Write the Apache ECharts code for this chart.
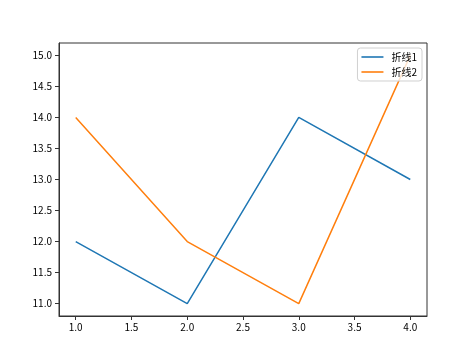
<!DOCTYPE html>
<html>
<head>
<meta charset="utf-8">
<script src="https://cdn.jsdelivr.net/npm/echarts@6/dist/echarts.min.js"></script>
<style>
	html, body { margin: 0; padding: 0; background: #fff; }
	#chart { width: 474px; height: 355px; }
</style>
</head>
<body>
<div id="chart"></div>
<script>
var xValues = [1, 2, 3, 4];
var line1 = [12, 11, 14, 13];
var line2 = [14, 12, 11, 15];
var seriesNames = ['折线1', '折线2'];
var xTicks = [1.0, 1.5, 2.0, 2.5, 3.0, 3.5, 4.0];
var yTicks = [11.0, 11.5, 12.0, 12.5, 13.0, 13.5, 14.0, 14.5, 15.0];

var myColor = ['#1f77b4', '#ff7f0e'];
var font = '"Noto Sans CJK SC", "DejaVu Sans", sans-serif';

function pairs(xs, ys) {
	return xs.map(function(x, i) { return [x, ys[i]]; });
}

var chart = echarts.init(document.getElementById('chart'));
chart.setOption({
	animation: false,
	color: myColor,
	grid: {
		left: 59,
		right: 47,
		top: 43,
		bottom: 39,
		show: true,
		borderColor: '#333',
		borderWidth: 1,
		backgroundColor: '#fff'
	},
	legend: {
		data: seriesNames,
		orient: 'vertical',
		right: 52,
		top: 48,
		icon: 'rect',
		itemWidth: 22,
		itemHeight: 1.6,
		itemGap: 5,
		padding: [4, 5, 4, 4],
		backgroundColor: 'rgba(255,255,255,0.8)',
		borderColor: '#d0d0d0',
		borderWidth: 1,
		borderRadius: 3,
		textStyle: {
			fontFamily: font,
			fontSize: 10,
			color: '#000',
			padding: [0, 0, 0, 3]
		}
	},
	xAxis: {
		type: 'value',
		min: 0.85,
		max: 4.15,
		axisLine: { show: true, lineStyle: { color: '#333', width: 1 } },
		axisTick: { show: true, length: 4, customValues: xTicks, lineStyle: { color: '#333' } },
		axisLabel: {
			customValues: xTicks,
			margin: 6,
			fontFamily: font,
			fontSize: 10,
			color: '#000',
			formatter: function(v) { return v.toFixed(1); }
		},
		splitLine: { show: false }
	},
	yAxis: {
		type: 'value',
		min: 10.8,
		max: 15.2,
		axisLine: { show: true, lineStyle: { color: '#333', width: 1 } },
		axisTick: { show: true, length: 4, customValues: yTicks, lineStyle: { color: '#333' } },
		axisLabel: {
			customValues: yTicks,
			margin: 7,
			fontFamily: font,
			fontSize: 10,
			color: '#000',
			formatter: function(v) { return v.toFixed(1); }
		},
		splitLine: { show: false }
	},
	series: [{
		name: seriesNames[0],
		type: 'line',
		symbol: 'none',
		lineStyle: { width: 1.5 },
		data: pairs(xValues, line1)
	}, {
		name: seriesNames[1],
		type: 'line',
		symbol: 'none',
		lineStyle: { width: 1.5 },
		data: pairs(xValues, line2)
	}]
});
</script>
</body>
</html>
